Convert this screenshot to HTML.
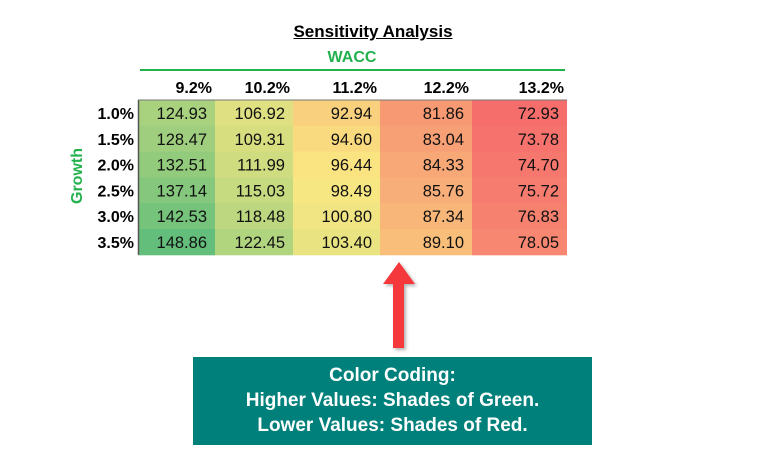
<!DOCTYPE html>
<html><head><meta charset="utf-8"><style>
body{margin:0;width:768px;height:470px;background:#fff;overflow:hidden;font-family:"Liberation Sans",sans-serif;position:relative}
.abs{position:absolute}
</style></head><body>
<div class="abs" style="left:273px;top:22px;width:200px;text-align:center;font-weight:bold;font-size:17px;text-decoration:underline">Sensitivity Analysis</div>
<div class="abs" style="left:302px;top:49px;width:100px;text-align:center;font-weight:bold;font-size:16px;color:#22b14c">WACC</div>
<div class="abs" style="left:140px;top:69px;width:425px;height:2px;background:#22b14c"></div>
<div class="abs" style="left:48px;top:167px;width:60px;text-align:center;font-weight:bold;font-size:16px;color:#22b14c;transform:rotate(-90deg)">Growth</div>
<svg id="hm" class="abs" style="left:0;top:0" width="768" height="300"></svg>
<svg class="abs" style="left:0;top:0" width="768" height="470">
<defs><filter id="sh"><feDropShadow dx="2" dy="2" stdDeviation="1.5" flood-color="#000" flood-opacity="0.3"/></filter></defs>
<polygon points="399,262 415,284 404,284 404,348 393,348 393,284 383,284" fill="#f5383b" filter="url(#sh)"/>
</svg>
<div class="abs" style="left:193px;top:357px;width:399px;height:88px;background:#00807a;color:#fff;font-weight:bold;font-size:19px;line-height:25px;text-align:center;padding-top:6px;box-sizing:border-box">Color Coding:<br>Higher Values: Shades of Green.<br>Lower Values: Shades of Red.</div>
<script>
const waccLabels=["9.2%","10.2%","11.2%","12.2%","13.2%"];
const growthLabels=["1.0%","1.5%","2.0%","2.5%","3.0%","3.5%"];
const col1=[124.93,128.47,132.51,137.14,142.53,148.86];
const col2=[106.92,109.31,111.99,115.03,118.48,122.45];
const col3=[92.94,94.60,96.44,98.49,100.80,103.40];
const col4=[81.86,83.04,84.33,85.76,87.34,89.10];
const col5=[72.93,73.78,74.70,75.72,76.83,78.05];
const cols=[col1,col2,col3,col4,col5];
const NS="http://www.w3.org/2000/svg";
const svg=document.getElementById('hm');
const colEdges=[138,215,293,380,472,567];
const top0=100,rowH=25.8;
const all=cols.flat().sort((a,b)=>a-b);
const vmin=all[0],vmax=all[all.length-1];
const vmid=(all[14]+all[15])/2;
function lerp(a,b,t){return a.map((x,i)=>Math.round(x+(b[i]-x)*t));}
function color(v){
 const red=[246,110,108],yel=[250,232,130],grn=[99,190,123];
 let c=v<vmid?lerp(red,yel,(v-vmin)/(vmid-vmin)):lerp(yel,grn,(v-vmid)/(vmax-vmid));
 return `rgb(${c.join(',')})`;
}
function add(tag,attrs,txt){const e=document.createElementNS(NS,tag);for(const k in attrs)e.setAttribute(k,attrs[k]);if(txt!=null)e.textContent=txt;svg.appendChild(e);return e;}
waccLabels.forEach((l,j)=>{
 const t=add('text',{x:colEdges[j+1]-3,y:93,'text-anchor':'end','font-weight':'bold','font-size':16,'font-family':'Liberation Sans'},l);
 
 
});
growthLabels.forEach((l,i)=>{
 const t=add('text',{x:134,y:top0+rowH*i+19,'text-anchor':'end','font-weight':'bold','font-size':16,'font-family':'Liberation Sans'},l);
 
 
});
cols.forEach((col,j)=>{
 col.forEach((v,i)=>{
  const r=add('rect',{x:colEdges[j],y:top0+rowH*i,width:colEdges[j+1]-colEdges[j],height:rowH+0.5,fill:color(v)});
  
  
  const t=add('text',{x:colEdges[j+1]-8,y:top0+rowH*i+19,'text-anchor':'end','font-size':16.5,'font-family':'Liberation Sans',fill:'#111'},v.toFixed(2));
  
  
 });
});
add('line',{x1:138.5,y1:top0,x2:138.5,y2:top0+rowH*6,stroke:'#555','stroke-width':1.5});
add('line',{x1:138,y1:top0,x2:567,y2:top0,stroke:'#777','stroke-width':1});
</script>
</body></html>
